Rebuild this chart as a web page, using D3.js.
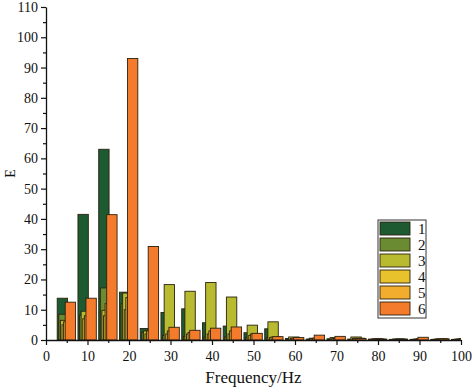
<!DOCTYPE html>
<html>
<head>
<meta charset="utf-8">
<script src="https://cdn.jsdelivr.net/npm/d3@7"></script>
<style>
  body { margin: 0; background: #fff; }
  svg text { font-family: "Liberation Serif", "Times New Roman", serif; fill: #111; }
</style>
</head>
<body>
<svg id="canvas" width="474" height="389"></svg>
<script>
'use strict';

/* frequency bins (Hz) */
const freqs = [5, 10, 15, 20, 25, 30, 35, 40, 45, 50, 55, 60, 65, 70, 75, 80, 85, 90, 95, 100];

/* series values, one array per legend entry */
const s1 = [13.8, 41.5, 63.0, 15.8, 3.8, 9.1, 10.3, 5.7, 4.6, 2.4, 3.7, 0.5, 0.3, 0.4, 0.3, 0.3, 0.2, 0.2, 0.2, 0.2];
const s2 = [8.5, 8.2, 17.2, 12.0, 2.5, 1.5, 1.2, 1.0, 1.0, 0.8, 0.8, 0.4, 0.3, 0.3, 0.2, 0.2, 0.2, 0.2, 0.2, 0.2];
const s3 = [6.5, 9.5, 9.8, 15.5, 3.0, 18.3, 16.1, 19.0, 14.2, 4.9, 6.0, 1.0, 0.6, 0.8, 1.0, 0.4, 0.3, 0.3, 0.3, 0.3];
const s4 = [5.0, 7.0, 8.0, 10.0, 2.0, 2.0, 2.0, 2.0, 2.0, 1.5, 0.8, 0.5, 0.5, 0.5, 0.5, 0.3, 0.3, 0.3, 0.3, 0.3];
const s5 = [6.0, 8.0, 12.0, 14.0, 3.0, 3.0, 2.5, 3.0, 3.0, 2.0, 1.0, 0.6, 0.6, 0.6, 0.6, 0.3, 0.3, 0.4, 0.4, 0.3];
const s6 = [12.5, 13.8, 41.4, 93.0, 30.9, 4.2, 3.2, 3.9, 4.3, 2.2, 1.1, 0.8, 1.6, 1.2, 0.5, 0.3, 0.3, 0.9, 0.4, 0.5];

const seriesNames = ['1', '2', '3', '4', '5', '6'];
const seriesValues = [s1, s2, s3, s4, s5, s6];
const colors = ['#1d5a31', '#6b8b32', '#b8bb2f', '#e7c22d', '#f2ad2e', '#f47b2b'];

const xTicks = d3.range(0, 101, 10);
const yTicks = d3.range(0, 111, 10);

/* scales */
const x = d3.scaleLinear().domain([0, 100]).range([46, 461]);
const y = d3.scaleLinear().domain([0, 110]).range([340, 7]);

/* bar geometry in data units: overlapping columns inside each bin */
const barW = 2.5;
const firstOff = -2.3;
const step = 0.385;

const svg = d3.select('svg#canvas');

/* keep the bars inside the plotting frame */
svg.append('defs').append('clipPath')
  .attr('id', 'plot-clip')
  .append('rect')
    .attr('x', x(0))
    .attr('y', 0)
    .attr('width', x(100) - x(0))
    .attr('height', y(0));

const bars = svg.append('g').attr('clip-path', 'url(#plot-clip)');

/* bars, series drawn in order so later ones overlap earlier ones */
seriesValues.forEach(function(vals, i){
  bars.append('g')
    .attr('class', 'series-' + (i + 1))
    .selectAll('rect')
    .data(freqs.map(function(f, j){ return { f: f, v: vals[j] }; }))
    .enter().append('rect')
      .attr('x', function(d){ return x(d.f + firstOff + i * step); })
      .attr('y', function(d){ return y(d.v); })
      .attr('width', x(barW) - x(0))
      .attr('height', function(d){ return y(0) - y(d.v); })
      .style('fill', colors[i])
      .style('stroke', '#2a2210')
      .style('stroke-width', 0.9)
  ;
});

/* x axis */
const xAxis = svg.append('g')
  .attr('transform', 'translate(0,' + y(0) + ')')
  .call(d3.axisBottom(x).tickValues(xTicks).tickSize(5).tickPadding(6).tickSizeOuter(0));
svg.append('g')
  .attr('transform', 'translate(0,' + y(0) + ')')
  .call(d3.axisBottom(x).tickValues(d3.range(5, 100, 10)).tickSize(3).tickFormat('').tickSizeOuter(0))
  .select('.domain').remove();

/* y axis */
const yAxis = svg.append('g')
  .attr('transform', 'translate(' + x(0) + ',0)')
  .call(d3.axisLeft(y).tickValues(yTicks).tickSize(5).tickPadding(3).tickSizeOuter(0));
svg.append('g')
  .attr('transform', 'translate(' + x(0) + ',0)')
  .call(d3.axisLeft(y).tickValues(d3.range(5, 110, 10)).tickSize(3).tickFormat('').tickSizeOuter(0))
  .select('.domain').remove();

svg.selectAll('.domain').style('stroke', '#111').style('stroke-width', 1.3);
svg.selectAll('.tick line').style('stroke', '#111').style('stroke-width', 1.2);
xAxis.selectAll('text').style('font-size', '14px').style('font-family', '"Liberation Serif", serif');
yAxis.selectAll('text').style('font-size', '14px').style('font-family', '"Liberation Serif", serif');

/* axis titles */
svg.append('text')
  .attr('x', (x(0) + x(100)) / 2)
  .attr('y', 383)
  .attr('text-anchor', 'middle')
  .style('font-size', '17px')
  .text('Frequency/Hz');

svg.append('text')
  .attr('transform', 'translate(15,' + y(55) + ') rotate(-90)')
  .attr('text-anchor', 'middle')
  .style('font-size', '14px')
  .text('E');

/* legend */
const legend = svg.append('g').attr('transform', 'translate(378,220)');
legend.append('rect')
  .attr('width', 48)
  .attr('height', 98)
  .style('fill', '#fff')
  .style('stroke', '#333')
  .style('stroke-width', 1);
const rows = legend.selectAll('g.row')
  .data(seriesNames)
  .enter().append('g')
    .attr('class', 'row')
    .attr('transform', function(d, i){ return 'translate(2,' + (2 + i * 16) + ')'; });
rows.append('rect')
  .attr('width', 30)
  .attr('height', 13)
  .style('fill', function(d, i){ return colors[i]; })
  .style('stroke', '#2a2210')
  .style('stroke-width', 0.9);
rows.append('text')
  .attr('x', 38)
  .attr('y', 12)
  .style('font-size', '15px')
  .text(function(d){ return d; });
</script>
</body>
</html>
